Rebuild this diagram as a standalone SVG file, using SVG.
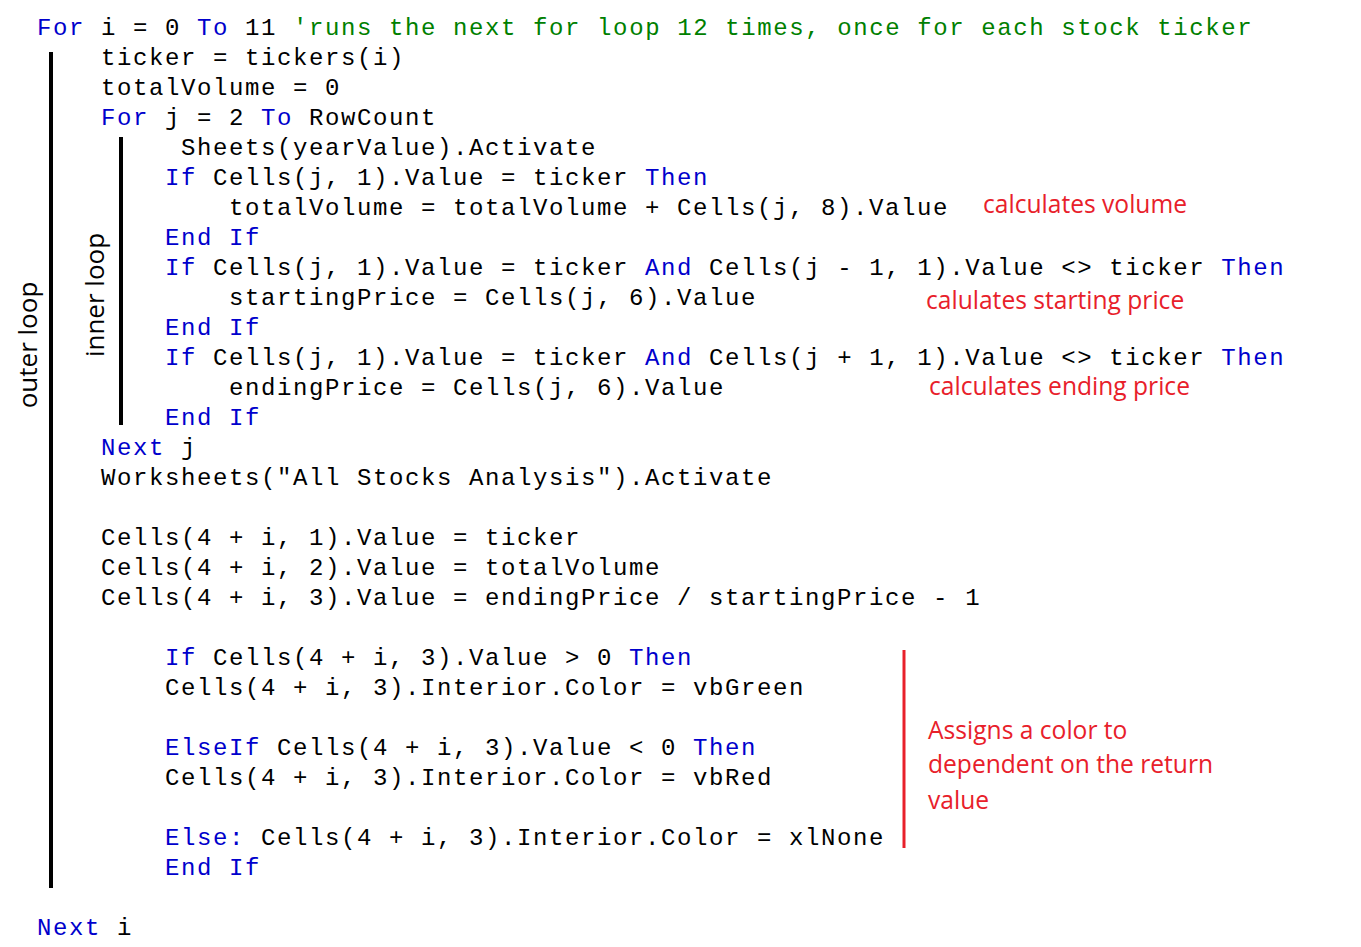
<svg xmlns="http://www.w3.org/2000/svg" width="1361" height="947" viewBox="0 0 1361 947">
<style>
.c{font-family:"Liberation Mono",monospace;font-size:24px;letter-spacing:1.6px;fill:#000;white-space:pre}
.k{fill:#0000cc}.g{fill:#008000}
.a{font-family:"Open Sans","Noto Sans",sans-serif;font-size:24.6px;fill:#e8202a}
.l{font-family:"Open Sans","Noto Sans",sans-serif;font-size:26px;fill:#000}
</style>
<rect width="1361" height="947" fill="#fff"/>
<g id="code" class="c">
<text x="37" y="35" xml:space="preserve"><tspan class="k">For</tspan> i = 0 <tspan class="k">To</tspan> 11 <tspan class="g">'runs the next for loop 12 times, once for each stock ticker</tspan></text>
<text x="101" y="65" xml:space="preserve">ticker = tickers(i)</text>
<text x="101" y="95" xml:space="preserve">totalVolume = 0</text>
<text x="101" y="125" xml:space="preserve"><tspan class="k">For</tspan> j = 2 <tspan class="k">To</tspan> RowCount</text>
<text x="181" y="155" xml:space="preserve">Sheets(yearValue).Activate</text>
<text x="165" y="185" xml:space="preserve"><tspan class="k">If</tspan> Cells(j, 1).Value = ticker <tspan class="k">Then</tspan></text>
<text x="229" y="215" xml:space="preserve">totalVolume = totalVolume + Cells(j, 8).Value</text>
<text x="165" y="245" xml:space="preserve" class="k">End If</text>
<text x="165" y="275" xml:space="preserve"><tspan class="k">If</tspan> Cells(j, 1).Value = ticker <tspan class="k">And</tspan> Cells(j - 1, 1).Value &lt;&gt; ticker <tspan class="k">Then</tspan></text>
<text x="229" y="305" xml:space="preserve">startingPrice = Cells(j, 6).Value</text>
<text x="165" y="335" xml:space="preserve" class="k">End If</text>
<text x="165" y="365" xml:space="preserve"><tspan class="k">If</tspan> Cells(j, 1).Value = ticker <tspan class="k">And</tspan> Cells(j + 1, 1).Value &lt;&gt; ticker <tspan class="k">Then</tspan></text>
<text x="229" y="395" xml:space="preserve">endingPrice = Cells(j, 6).Value</text>
<text x="165" y="425" xml:space="preserve" class="k">End If</text>
<text x="101" y="455" xml:space="preserve"><tspan class="k">Next</tspan> j</text>
<text x="101" y="485" xml:space="preserve">Worksheets("All Stocks Analysis").Activate</text>
<text x="101" y="545" xml:space="preserve">Cells(4 + i, 1).Value = ticker</text>
<text x="101" y="575" xml:space="preserve">Cells(4 + i, 2).Value = totalVolume</text>
<text x="101" y="605" xml:space="preserve">Cells(4 + i, 3).Value = endingPrice / startingPrice - 1</text>
<text x="165" y="665" xml:space="preserve"><tspan class="k">If</tspan> Cells(4 + i, 3).Value &gt; 0 <tspan class="k">Then</tspan></text>
<text x="165" y="695" xml:space="preserve">Cells(4 + i, 3).Interior.Color = vbGreen</text>
<text x="165" y="755" xml:space="preserve"><tspan class="k">ElseIf</tspan> Cells(4 + i, 3).Value &lt; 0 <tspan class="k">Then</tspan></text>
<text x="165" y="785" xml:space="preserve">Cells(4 + i, 3).Interior.Color = vbRed</text>
<text x="165" y="845" xml:space="preserve"><tspan class="k">Else:</tspan> Cells(4 + i, 3).Interior.Color = xlNone</text>
<text x="165" y="875" xml:space="preserve" class="k">End If</text>
<text x="37" y="935" xml:space="preserve"><tspan class="k">Next</tspan> i</text>
</g>
<g id="brackets">
<line x1="51" y1="52" x2="51" y2="888" stroke="#000" stroke-width="4"/>
<line x1="121" y1="137" x2="121" y2="425" stroke="#000" stroke-width="4"/>
<line x1="904" y1="650" x2="904" y2="848" stroke="#e8202a" stroke-width="3"/>
</g>
<g id="labels">
<text class="l" transform="translate(37,345) rotate(-90)" text-anchor="middle">outer loop</text>
<text class="l" transform="translate(104,295) rotate(-90)" text-anchor="middle">inner loop</text>
<text class="a" x="983" y="213">calculates volume</text>
<text class="a" x="926" y="309">calulates starting price</text>
<text class="a" x="929" y="395">calculates ending price</text>
<text class="a" x="928" y="739">Assigns a color to</text>
<text class="a" x="928" y="773">dependent on the return</text>
<text class="a" x="928" y="809">value</text>
</g>
</svg>
